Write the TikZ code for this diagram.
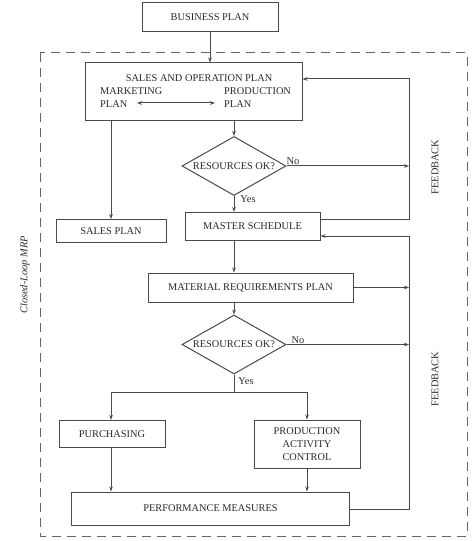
\documentclass[tikz,border=0pt]{standalone}
\usepackage{fontspec}
\setmainfont{Liberation Serif}
\usetikzlibrary{shapes.geometric,arrows.meta}
\definecolor{ln}{HTML}{4A4A4A}
\definecolor{tx}{HTML}{2A2A2A}
\begin{document}
\begin{tikzpicture}[x=1bp,y=-1bp,
  every node/.style={text=tx,font=\fontsize{10.4}{12.8}\selectfont},
  box/.style={draw=ln,line width=1bp,rectangle,inner sep=0pt,align=center},
  dia/.style={draw=ln,line width=1bp,diamond,inner sep=0pt,minimum width=104bp,minimum height=59bp},
  conn/.style={draw=ln,line width=1bp},
  arr/.style={conn,-{Stealth[length=5bp,width=3.6bp]}},
  lbl/.style={inner sep=0pt,font=\fontsize{10.4}{13}\selectfont},
  side/.style={inner sep=0pt,rotate=90,font=\fontsize{10.4}{12}\selectfont}]
\useasboundingbox (0,0) rectangle (476,541);
\fill[white] (0,0) rectangle (476,541);
% closed loop border
\draw[draw=ln!85,line width=1bp,dash pattern=on 9bp off 6bp] (40,53) rectangle (467,536);
\node[side,font=\fontsize{10.4}{12}\itshape] (cl) at (25,275) {Closed-Loop MRP};
\node[side] (fb1) at (435,167) {FEEDBACK};
\node[side] (fb2) at (435,379) {FEEDBACK};

% nodes
\node[box,minimum width=136bp,minimum height=29bp] (bp) at (210,17.5) {BUSINESS PLAN};
\node[box,minimum width=217bp,minimum height=58bp] (sop) at (193.5,92) {};
\node[lbl] (sopt) at (199,78) {SALES AND OPERATION PLAN};
\node[lbl,align=left,anchor=west] (mkt) at (100,97.5) {MARKETING\\PLAN};
\node[lbl,align=left,anchor=west] (prod) at (224,97.5) {PRODUCTION\\PLAN};
\node[dia,label={center:RESOURCES OK?}] (d1) at (234,166) {};
\node[box,minimum width=110bp,minimum height=23bp] (sp) at (111,231) {SALES PLAN};
\node[box,minimum width=135bp,minimum height=28bp] (ms) at (252.5,226.5) {MASTER SCHEDULE};
\node[box,minimum width=205bp,minimum height=29bp] (mrp) at (250.5,287.5) {MATERIAL REQUIREMENTS PLAN};
\node[dia,label={center:RESOURCES OK?}] (d2) at (234,344.5) {};
\node[box,minimum width=106bp,minimum height=27bp] (pur) at (112,434) {PURCHASING};
\node[box,minimum width=106bp,minimum height=48bp] (pac) at (307,444) {PRODUCTION\\ACTIVITY\\CONTROL};
\node[box,minimum width=277bp,minimum height=33bp] (pm) at (210.5,508.5) {PERFORMANCE MEASURES};

% labels
\node[lbl] (no1) at (293,161) {No};
\node[lbl] (yes1) at (248,199) {Yes};
\node[lbl] (no2) at (298,340) {No};
\node[lbl] (yes2) at (246,381) {Yes};

% coordinates
\coordinate (f1a) at (409,79);
\coordinate (f1b) at (409,219);
\coordinate (f1c) at (409,166);
\coordinate (f2a) at (409,236);
\coordinate (f2b) at (409,509);
\coordinate (f2c) at (409,287.5);
\coordinate (f2d) at (409,344.5);
\coordinate (split) at (234,392);

% connectors
\draw[arr] (bp.south) -- (bp.south |- sop.north);
\draw[conn,<->,>={Stealth[length=5bp,width=3.6bp]}] (137,103) -- (215,103);
\draw[arr] (sp.north |- sop.south) -- (sp.north);
\draw[arr] (d1.north |- sop.south) -- (d1.north);
\draw[arr] (d1.south) -- (d1.south |- ms.north);
\draw[arr] (d1.east) -- (f1c);
\draw[arr] (ms.east |- f1b) -- (f1b) -- (f1a) -- (sop.east |- f1a);
\draw[arr] (d1.south |- ms.south) -- (d1.south |- mrp.north);
\draw[arr] (mrp.east) -- (f2c);
\draw[arr] (d2.north |- mrp.south) -- (d2.north);
\draw[arr] (d2.east) -- (f2d);
\draw[conn] (d2.south) -- (split);
\draw[conn] (111,392) -- (pac.north |- split);
\draw[arr] (111,392) -- (111,0 |- pur.north);
\draw[arr] (pac.north |- split) -- (pac.north);
\draw[arr] (111,0 |- pur.south) -- (111,0 |- pm.north);
\draw[arr] (pac.south) -- (pac.south |- pm.north);
\draw[arr] (pm.east |- f2b) -- (f2b) -- (f2a) -- (ms.east |- f2a);
\end{tikzpicture}
\end{document}
